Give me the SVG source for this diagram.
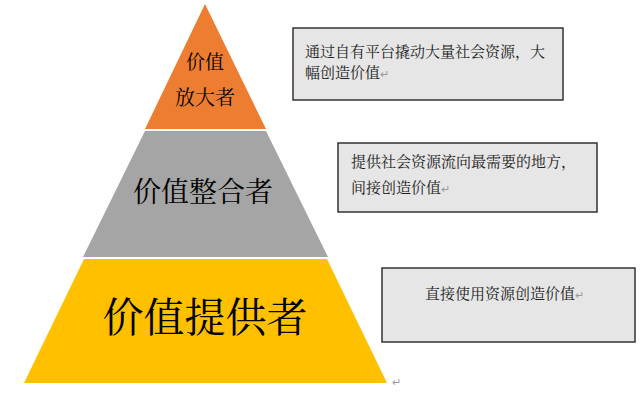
<svg xmlns="http://www.w3.org/2000/svg" width="644" height="417" viewBox="0 0 644 417">
<style>
.lvl{font-family:"Noto Serif CJK SC","Noto Sans CJK SC",serif;fill:#000;text-anchor:middle}
.box{fill:#e6e6e6;stroke:#333;stroke-width:1.5}
.bt{font-family:"Noto Serif CJK SC","Noto Sans CJK SC",serif;font-size:15px;fill:#222}
.ret{fill:#999}
</style>
<rect width="644" height="417" fill="#fff"/>
<g id="level-top">
<polygon points="205,4 266,129 145,129" fill="#ED7D31"/>
<text class="lvl" x="205" y="69" font-size="19">价值</text>
<text class="lvl" x="205" y="105" font-size="20">放大者</text>
</g>
<g id="level-middle">
<polygon points="145,131 266,131 328,257 83,257" fill="#A5A5A5"/>
<text class="lvl" x="203" y="202" font-size="28">价值整合者</text>
</g>
<g id="level-bottom">
<polygon points="84,259 327,259 387,383 24,383" fill="#FFC000"/>
<text class="lvl" x="205" y="332" font-size="41">价值提供者</text>
<text x="392" y="386" font-family="Liberation Sans,sans-serif" font-size="11" class="ret">↵</text>
</g>
<g id="box-top">
<rect class="box" x="293" y="28" width="270" height="72"/>
<text class="bt" x="305" y="57">通过自有平台撬动大量社会资源，大</text>
<text class="bt" x="305" y="78">幅创造价值<tspan class="ret" font-size="11">↵</tspan></text>
</g>
<g id="box-middle">
<rect class="box" x="338" y="143" width="259" height="69"/>
<text class="bt" x="351" y="167">提供社会资源流向最需要的地方，</text>
<text class="bt" x="351" y="193">间接创造价值<tspan class="ret" font-size="11">↵</tspan></text>
</g>
<g id="box-bottom">
<rect class="box" x="382" y="268" width="253" height="74"/>
<text class="bt" x="425" y="299">直接使用资源创造价值<tspan class="ret" font-size="11">↵</tspan></text>
</g>
<g id="connectors"/>
</svg>
